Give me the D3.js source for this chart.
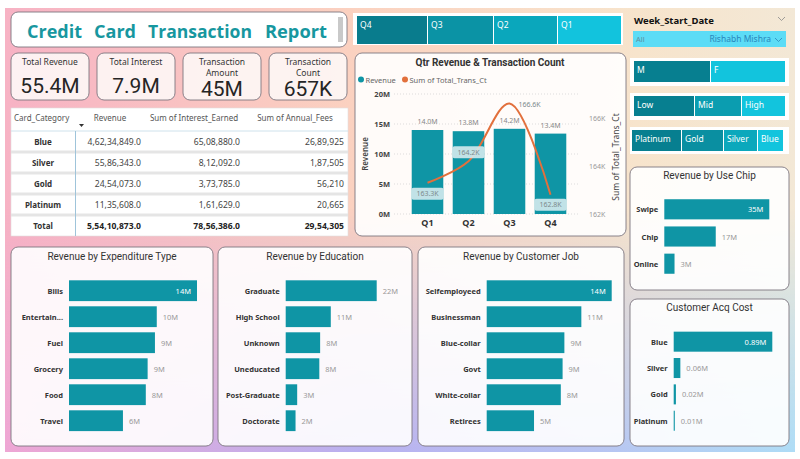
<!DOCTYPE html>
<html>
<head>
<meta charset="utf-8">
<script src="https://cdn.jsdelivr.net/npm/d3@7"></script>
<style>
  body { margin: 0; background: #fff; }
  svg { display: block; }
  text { font-family: "Noto Sans", sans-serif; }
</style>
</head>
<body>
<svg id="dash" width="800" height="459"></svg>
<script>
/* ---- data ---- */
var reportTitle = ["Credit", "Card", "Transaction", "Report"];
var kpiLabels = [["Total Revenue"], ["Total Interest"], ["Transaction", "Amount"], ["Transaction", "Count"]];
var kpiValues = ["55.4M", "7.9M", "45M", "657K"];

var tableHeaders = ["Card_Category", "Revenue", "Sum of Interest_Earned", "Sum of Annual_Fees"];
var tableCategories = ["Blue", "Silver", "Gold", "Platinum"];
var tableRevenue = [46234849, 5586343, 2454073, 1135608];
var tableInterest = [6508880, 812092, 373785, 161629];
var tableFees = [2689925, 187505, 56210, 20665];

var quarters = ["Q1", "Q2", "Q3", "Q4"];
var qtrRevenue = [14.0e6, 13.8e6, 14.2e6, 13.4e6];
var qtrTransCt = [163300, 164200, 166600, 162800];
var revTicks = [0, 5e6, 10e6, 15e6, 20e6];
var ctTicks = [162000, 164000, 166000];

var qtrSlicer = ["Q4", "Q3", "Q2", "Q1"];
var genderSlicer = ["M", "F"];
var incomeSlicer = ["Low", "Mid", "High"];
var cardSlicer = ["Platinum", "Gold", "Silver", "Blue"];

var expCats = ["Bills", "Entertainment", "Fuel", "Grocery", "Food", "Travel"];
var expVals = [14.0, 9.6, 9.4, 8.6, 8.4, 5.9];
var eduCats = ["Graduate", "High School", "Unknown", "Uneducated", "Post-Graduate", "Doctorate"];
var eduVals = [22.2, 11.0, 8.4, 8.2, 2.8, 2.4];
var jobCats = ["Selfemployeed", "Businessman", "Blue-collar", "Govt", "White-collar", "Retirees"];
var jobVals = [14.0, 10.6, 8.7, 8.5, 8.3, 5.3];
var chipCats = ["Swipe", "Chip", "Online"];
var chipVals = [34.9, 17.1, 3.4];
var acqCats = ["Blue", "Silver", "Gold", "Platinum"];
var acqVals = [0.89, 0.06, 0.02, 0.01];

/* ---- styling ---- */
var TEAL = "#0f95a5";
var ORANGE = "#e2703c";
var TITLE_FONT = "Roboto, 'Noto Sans', sans-serif";

var svg = d3.select("#dash");
var defs = svg.append("defs");

function grad(id, stops, x2, y2) {
	var g = defs.append("linearGradient").attr("id", id)
		.attr("x1", 0).attr("y1", 0).attr("x2", x2).attr("y2", y2);
	stops.forEach(function(s) {
		g.append("stop").attr("offset", s[0]).attr("stop-color", s[1]).attr("stop-opacity", s[2] == undefined ? 1 : s[2]);
	});
}
grad("bgTop", [[0, "#f7b2c4"], [0.45, "#fbd2c0"], [0.8, "#f7e4cc"], [1, "#f3e8d6"]], 1, 0);
grad("bgBot", [[0, "#eea6d4"], [0.45, "#b8b0f0"], [0.75, "#b7c4f2"], [1, "#aedcf6"]], 1, 0);
grad("fadeV", [[0, "#fff", 0], [0.45, "#fff", 0], [1, "#fff", 1]], 0, 1);
defs.append("mask").attr("id", "botMask").append("rect")
	.attr("x", 5).attr("y", 8).attr("width", 790).attr("height", 444).attr("fill", "url(#fadeV)");

/* canvas background */
svg.append("rect").attr("x", 5).attr("y", 8).attr("width", 790).attr("height", 444).attr("fill", "url(#bgTop)");
svg.append("rect").attr("x", 5).attr("y", 8).attr("width", 790).attr("height", 444).attr("fill", "url(#bgBot)")
	.attr("mask", "url(#botMask)");

function card(x, y, w, h, fill, op) {
	svg.append("rect").attr("x", x).attr("y", y).attr("width", w).attr("height", h)
		.attr("rx", 7).attr("fill", fill || "#fff").attr("fill-opacity", op == undefined ? 0.9 : op)
		.attr("stroke", "#7d7680").attr("stroke-width", 0.9);
}

/* Indian style grouping: 4,62,34,849 */
function inr(n, dec) {
	var s = Math.round(n).toString();
	var last3 = s.slice(-3), rest = s.slice(0, -3);
	rest = rest.replace(/\B(?=(\d{2})+(?!\d))/g, ",");
	return (rest ? rest + "," : "") + last3 + (dec ? ".0" : "");
}

/* ---- title ---- */
card(11, 12, 336, 35, "#fff", 1);
var titleText = svg.append("text").attr("y", 38)
	.attr("font-size", 18).attr("font-weight", 700).attr("fill", "#17979f")
	.style("font-family", "'Open Sans', sans-serif");
// word slots as laid out in the report title
var wordX = [27, 94, 148, 265];
var wordW = [55, 42, 104, 62];
reportTitle.forEach(function(w, i) {
	titleText.append("tspan").attr("x", wordX[i]).attr("textLength", wordW[i])
		.attr("lengthAdjust", "spacingAndGlyphs").text(w);
});
svg.append("rect").attr("x", 338).attr("y", 17).attr("width", 5).attr("height", 25).attr("fill", "#c9c9c9");

/* ---- KPI cards ---- */
var kpiX = [11, 97, 183, 269];
kpiLabels.forEach(function(lines, i) {
	card(kpiX[i], 53, 78, 47, "#fdf6f5", 0.92);
	var cx = kpiX[i] + 39;
	lines.forEach(function(l, j) {
		svg.append("text").attr("x", cx).attr("y", 65 + j * 10.5).attr("text-anchor", "middle")
			.attr("font-size", 8.5).attr("fill", "#333").text(l);
	});
	svg.append("text").attr("x", cx).attr("y", lines.length > 1 ? 96 : 93).attr("text-anchor", "middle")
		.attr("font-size", 21).attr("fill", "#252525").style("font-family", TITLE_FONT)
		.text(kpiValues[i]);
});

/* ---- table ---- */
svg.append("rect").attr("x", 11).attr("y", 108).attr("width", 337).attr("height", 128)
	.attr("fill", "#fff").attr("stroke", "#e2dcdc").attr("stroke-width", 0.6);
var headX = [14, 110, 194, 295];
var headAnchor = ["start", "middle", "middle", "middle"];
tableHeaders.forEach(function(h, i) {
	svg.append("text").attr("x", headX[i]).attr("y", 121).attr("text-anchor", headAnchor[i])
		.attr("font-size", 8).attr("fill", "#555").text(h);
});
svg.append("path").attr("d", "M79,124 l5,0 l-2.5,3 z").attr("fill", "#333");
svg.append("line").attr("x1", 11).attr("x2", 348).attr("y1", 131).attr("y2", 131).attr("stroke", "#cfe2ec");

var rowY = d3.scaleBand().domain(tableCategories.concat(["Total"])).range([131, 236]);
tableCategories.concat(["Total"]).forEach(function(c, i) {
	if (i > 0) svg.append("rect").attr("x", 11).attr("width", 337).attr("y", rowY(c) - 1.5).attr("height", 3).attr("fill", "#e5e5e5");
});
svg.append("line").attr("x1", 75.5).attr("x2", 75.5).attr("y1", 131).attr("y2", 236).attr("stroke", "#9fc4da");

var totals = [d3.sum(tableRevenue), d3.sum(tableInterest), d3.sum(tableFees)];
var rows = tableCategories.map(function(c, i) {
	return { name: c, vals: [tableRevenue[i], tableInterest[i], tableFees[i]], bold: false };
});
rows.push({ name: "Total", vals: totals, bold: true });
var colRight = [141, 240, 344];
rows.forEach(function(r) {
	var yy = rowY(r.name) + rowY.bandwidth() / 2 + 3;
	svg.append("text").attr("x", 43).attr("y", yy).attr("text-anchor", "middle")
		.attr("font-size", 8).attr("font-weight", 700).attr("fill", "#333").text(r.name);
	r.vals.forEach(function(v, j) {
		svg.append("text").attr("x", colRight[j]).attr("y", yy).attr("text-anchor", "end")
			.attr("font-size", 8.6).attr("font-weight", r.bold ? 700 : 400).attr("fill", r.bold ? "#222" : "#444")
			.text(inr(v, j < 2));
	});
});

/* ---- slicers ---- */
function slicer(items, widths, colors, x, y, h, bx, by, bw, bh) {
	svg.append("rect").attr("x", bx).attr("y", by).attr("width", bw).attr("height", bh).attr("fill", "#fff");
	var cx = x;
	items.forEach(function(it, i) {
		svg.append("rect").attr("x", cx).attr("y", y).attr("width", widths[i] - 1).attr("height", h).attr("fill", colors[i]);
		svg.append("text").attr("x", cx + 3).attr("y", y + 12).attr("font-size", 8.5).attr("fill", "#fff").text(it);
		cx += widths[i];
	});
}
slicer(qtrSlicer, [71, 66, 64, 64], ["#097c8d", "#0b93a5", "#0aa7bc", "#12c3dd"], 357, 16, 28, 353, 13, 270, 32);
slicer(genderSlicer, [77, 75], ["#077f90", "#12c4dd"], 634, 61, 21, 630, 58, 159, 28);
slicer(incomeSlicer, [61, 47, 44], ["#077f90", "#0b9db0", "#12c4dd"], 634, 96, 20, 630, 93, 159, 27);
slicer(cardSlicer, [50, 42, 34, 26], ["#077f90", "#0a8fa1", "#0ba8bc", "#12c4dd"], 632, 130, 21, 630, 127, 159, 27);

/* Week_Start_Date dropdown */
svg.append("text").attr("x", 634).attr("y", 24).attr("font-size", 9.5).attr("font-weight", 700).attr("fill", "#111").text("Week_Start_Date");
svg.append("path").attr("d", "M778,17 l3.5,3.5 l3.5,-3.5").attr("fill", "none").attr("stroke", "#888").attr("stroke-width", 0.8);
svg.append("rect").attr("x", 633).attr("y", 31).attr("width", 153).attr("height", 16).attr("fill", "#5cdcf6");
svg.append("text").attr("x", 636).attr("y", 42).attr("font-size", 7.5).attr("fill", "#5f8fa0").text("All");
svg.append("text").attr("x", 771).attr("y", 41.5).attr("text-anchor", "end").attr("font-size", 8.5).attr("fill", "#2a86bb").text("Rishabh Mishra");
svg.append("path").attr("d", "M775,38 l3.5,3.5 l3.5,-3.5").attr("fill", "none").attr("stroke", "#2a86bb").attr("stroke-width", 0.8);

/* ---- Qtr Revenue & Transaction Count ---- */
card(355, 53, 271, 183);
svg.append("text").attr("x", 490).attr("y", 66).attr("text-anchor", "middle").attr("font-size", 10)
	.attr("font-weight", 700).attr("fill", "#333").style("font-family", TITLE_FONT).text("Qtr Revenue & Transaction Count");
svg.append("circle").attr("cx", 361).attr("cy", 79.5).attr("r", 3).attr("fill", TEAL);
svg.append("text").attr("x", 365.5).attr("y", 82.5).attr("font-size", 7.5).attr("fill", "#666").text("Revenue");
svg.append("circle").attr("cx", 405).attr("cy", 79.5).attr("r", 3).attr("fill", ORANGE);
svg.append("text").attr("x", 409.5).attr("y", 82.5).attr("font-size", 7.5).attr("fill", "#666").text("Sum of Total_Trans_Ct");

var qx = d3.scaleBand().domain(quarters).range([407, 571]).paddingInner(0.23).paddingOuter(0.115);
var yRev = d3.scaleLinear().domain([0, 20e6]).range([214, 94]);
var yCt = d3.scaleLinear().domain([162000, 167000]).range([214, 94]);

var qg = svg.append("g");
revTicks.forEach(function(t) {
	qg.append("line").attr("x1", 394).attr("x2", 580).attr("y1", yRev(t)).attr("y2", yRev(t))
		.attr("stroke", "#cfcfcf").attr("stroke-width", 0.7).attr("stroke-dasharray", "1,2");
	qg.append("text").attr("x", 390).attr("y", yRev(t) + 3).attr("text-anchor", "end").attr("font-size", 7.5)
		.attr("font-weight", 700).attr("fill", "#444").text(d3.format(".0f")(t / 1e6) + "M");
});
ctTicks.forEach(function(t) {
	qg.append("text").attr("x", 589).attr("y", yCt(t) + 3).attr("font-size", 7).attr("fill", "#999")
		.text(d3.format(".0f")(t / 1000) + "K");
});
qg.append("text").attr("transform", "translate(368,154) rotate(-90)").attr("text-anchor", "middle")
	.attr("font-size", 8).attr("font-weight", 600).attr("fill", "#444").text("Revenue");
qg.append("text").attr("transform", "translate(619,157) rotate(-90)").attr("text-anchor", "middle")
	.attr("font-size", 8.5).attr("fill", "#444").text("Sum of Total_Trans_Ct");

quarters.forEach(function(q, i) {
	qg.append("rect").attr("x", qx(q)).attr("y", yRev(qtrRevenue[i])).attr("width", qx.bandwidth())
		.attr("height", yRev(0) - yRev(qtrRevenue[i])).attr("fill", TEAL);
	qg.append("text").attr("x", qx(q) + qx.bandwidth() / 2).attr("y", yRev(qtrRevenue[i]) - 6)
		.attr("text-anchor", "middle").attr("font-size", 7).attr("fill", "#888")
		.text(d3.format(".1f")(qtrRevenue[i] / 1e6) + "M");
	qg.append("text").attr("x", qx(q) + qx.bandwidth() / 2).attr("y", 226).attr("text-anchor", "middle")
		.attr("font-size", 9).attr("font-weight", 700).attr("fill", "#333").text(q);
});

var line = d3.line()
	.x(function(d, i) { return qx(quarters[i]) + qx.bandwidth() / 2; })
	.y(function(d) { return yCt(d); })
	.curve(d3.curveCatmullRom.alpha(0.5));
qg.append("path").attr("d", line(qtrTransCt)).attr("fill", "none").attr("stroke", ORANGE).attr("stroke-width", 2);

// label placement for each point: dx, dy from the point
var ctLabelOffset = [[0, 11], [0, -9], [20, 1], [0, 10]];
qtrTransCt.forEach(function(v, i) {
	var px = qx(quarters[i]) + qx.bandwidth() / 2 + ctLabelOffset[i][0];
	var py = yCt(v) + ctLabelOffset[i][1];
	if (i != 2) {
		qg.append("rect").attr("x", px - 16).attr("y", py - 6).attr("width", 32).attr("height", 12)
			.attr("rx", 2).attr("fill", "#d5eaee").attr("fill-opacity", 0.9);
	}
	qg.append("text").attr("x", px).attr("y", py + 2.5).attr("text-anchor", "middle").attr("font-size", 7)
		.attr("fill", "#7d8a8d").text(d3.format(".1f")(v / 1000) + "K");
});

/* ---- horizontal bar charts ---- */
function hbar(cfg) {
	card(cfg.box[0], cfg.box[1], cfg.box[2], cfg.box[3]);
	svg.append("text").attr("x", cfg.box[0] + cfg.box[2] / 2).attr("y", cfg.titleY).attr("text-anchor", "middle")
		.attr("font-size", 10).attr("fill", "#333").style("font-family", TITLE_FONT).text(cfg.title);

	var y = d3.scaleBand().domain(cfg.cats).range([cfg.y0, cfg.y1]).paddingInner(cfg.pad).paddingOuter(cfg.pad / 2);
	var x = d3.scaleLinear().domain([0, d3.max(cfg.vals)]).range([cfg.x0, cfg.x1]);
	// the biggest bar carries its label inside unless the chart says otherwise
	var top = cfg.outside ? Infinity : d3.max(cfg.vals);
	var g = svg.append("g");

	g.selectAll("rect.bar").data(cfg.cats).enter().append("rect").attr("class", "bar")
		.attr("x", x(0)).attr("y", function(d) { return y(d); })
		.attr("width", function(d, i) { return Math.max(1, x(cfg.vals[i]) - x(0)); })
		.attr("height", y.bandwidth()).attr("fill", TEAL);

	g.selectAll("text.cat").data(cfg.cats).enter().append("text").attr("class", "cat")
		.attr("x", x(0) - 6).attr("y", function(d) { return y(d) + y.bandwidth() / 2 + 3; })
		.attr("text-anchor", "end").attr("font-size", 7.5).attr("font-weight", 700).attr("fill", "#333")
		.text(function(d) { return d; })
		.each(function(d) {
			// shorten labels that don't fit, as Power BI does
			var t = d3.select(this);
			if (cfg.labelMax && this.getComputedTextLength() > cfg.labelMax) {
				var s = d;
				while (s.length > 1) {
					s = s.slice(0, -1);
					t.text(s + "...");
					if (this.getComputedTextLength() <= cfg.labelMax) break;
				}
			}
		});

	g.selectAll("text.val").data(cfg.vals).enter().append("text").attr("class", "val")
		.attr("x", function(v) { return v == top ? x(v) - 6 : x(v) + 6; })
		.attr("y", function(v, i) { return y(cfg.cats[i]) + y.bandwidth() / 2 + 3; })
		.attr("text-anchor", function(v) { return v == top ? "end" : "start"; })
		.attr("font-size", 7.5).attr("fill", function(v) { return v == top ? "#fff" : "#999"; })
		.text(function(v) { return cfg.fmt(v) + "M"; });
}

var fmtM = d3.format(".0f");
hbar({ box: [11, 247, 202, 199], title: "Revenue by Expenditure Type", titleY: 260, cats: expCats, vals: expVals,
	x0: 69, x1: 197, y0: 277.7, y1: 433.7, pad: 0.2, fmt: fmtM, labelMax: 46 });
hbar({ box: [218, 247, 194, 199], title: "Revenue by Education", titleY: 260, cats: eduCats, vals: eduVals,
	x0: 285.7, x1: 376.7, y0: 277.7, y1: 433.7, pad: 0.2, fmt: fmtM, outside: true });
hbar({ box: [418, 247, 206, 199], title: "Revenue by Customer Job", titleY: 260, cats: jobCats, vals: jobVals,
	x0: 486.7, x1: 611.7, y0: 277.7, y1: 433.7, pad: 0.2, fmt: fmtM });
hbar({ box: [630, 167, 159, 123], title: "Revenue by Use Chip", titleY: 179, cats: chipCats, vals: chipVals,
	x0: 664.3, x1: 769.3, y0: 195.7, y1: 277.3, pad: 0.26, fmt: fmtM });
hbar({ box: [630, 299, 159, 147], title: "Customer Acq Cost", titleY: 311, cats: acqCats, vals: acqVals,
	x0: 673.7, x1: 772.3, y0: 328.5, y1: 433.9, pad: 0.24, fmt: d3.format(".2f") });
</script>
</body>
</html>
